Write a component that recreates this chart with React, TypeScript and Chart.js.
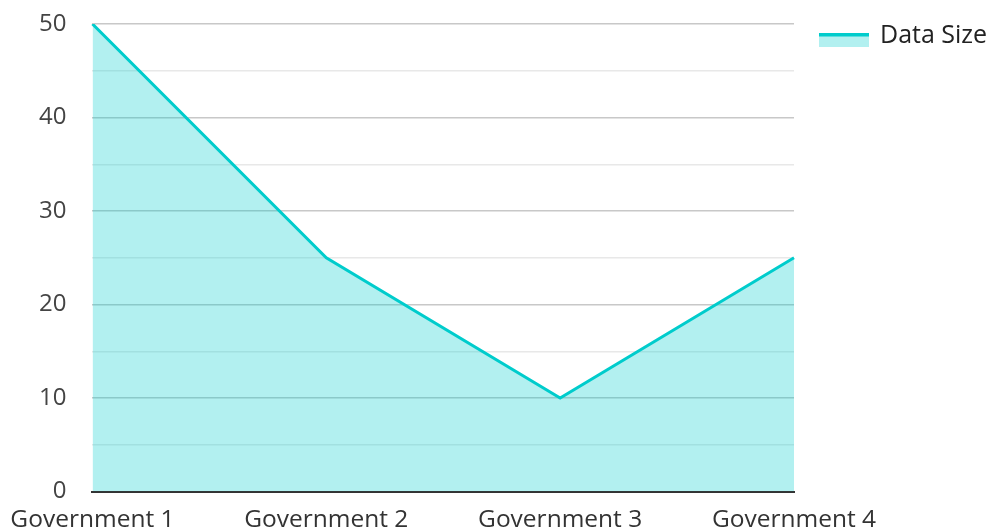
import React, { useEffect, useRef } from "react";
import { Chart, registerables } from "chart.js";

Chart.register(...registerables);

const categories = ["Government 1", "Government 2", "Government 3", "Government 4"];
const dataSize = [50, 25, 10, 25];
const seriesLabel = "Data Size";
const yMin = 0;
const yMax = 50;
const yStep = 5;
const yLabelStep = 10;

const LINE = "rgb(0, 204, 204)";
const FILL = "rgba(0, 204, 204, 0.3)";
const FONT = "'Open Sans', 'Noto Sans', sans-serif";

const legendPlugin = {
  id: "sideLegend",
  afterDraw(chart: any) {
    const { ctx, chartArea } = chart;
    const ds = chart.data.datasets[0];
    const x = chartArea.right + 25;
    const y = chartArea.top + 9;
    ctx.save();
    ctx.fillStyle = ds.backgroundColor;
    ctx.fillRect(x, y, 50, 14);
    ctx.fillStyle = ds.borderColor;
    ctx.fillRect(x, y, 50, 3.5);
    ctx.fillStyle = "#222";
    ctx.font = `25px ${FONT}`;
    ctx.textBaseline = "middle";
    ctx.textAlign = "left";
    ctx.fillText(ds.label, x + 61, y + 3);
    ctx.restore();
  },
};

export default function App() {
  const ref = useRef<HTMLCanvasElement>(null);
  useEffect(() => {
    if (!ref.current) return;
    const chart = new Chart(ref.current, {
      type: "line",
      data: {
        labels: categories,
        datasets: [
          {
            label: seriesLabel,
            data: dataSize,
            borderColor: LINE,
            backgroundColor: FILL,
            borderWidth: 3,
            fill: "origin",
            pointRadius: 0,
            tension: 0,
          },
        ],
      },
      options: {
        animation: false,
        responsive: true,
        maintainAspectRatio: false,
        layout: { padding: { top: 24, left: 33, right: 194, bottom: -9 } },
        plugins: {
          legend: { display: false },
          tooltip: { enabled: false },
        },
        scales: {
          x: {
            offset: false,
            grid: { display: false },
            border: { display: true, color: "#333", width: 2 },
            ticks: { color: "#333", font: { family: FONT, size: 24.5 }, padding: 6, maxRotation: 0, autoSkip: false },
          },
          y: {
            min: yMin,
            max: yMax,
            border: { display: false },
            grid: {
              drawTicks: true,
              tickLength: 20,
              tickColor: "rgba(0,0,0,0)",
              color: (ctx: any) => (ctx.tick && ctx.tick.value % yLabelStep === 0 ? "#c8c8c8" : "#e8e8e8"),
              lineWidth: 1.5,
            },
            ticks: {
              stepSize: yStep,
              padding: 6,
              color: "#444",
              font: { family: FONT, size: 24 },
              callback: (v: any) => (Number(v) % yLabelStep === 0 ? String(v) : ""),
            },
          },
        },
      },
      plugins: [legendPlugin],
    });
    return () => chart.destroy();
  }, []);
  return (
    <div style={{ position: "fixed", left: 0, top: 0, width: 988, height: 532, background: "#fff" }}>
      <canvas ref={ref} />
    </div>
  );
}
